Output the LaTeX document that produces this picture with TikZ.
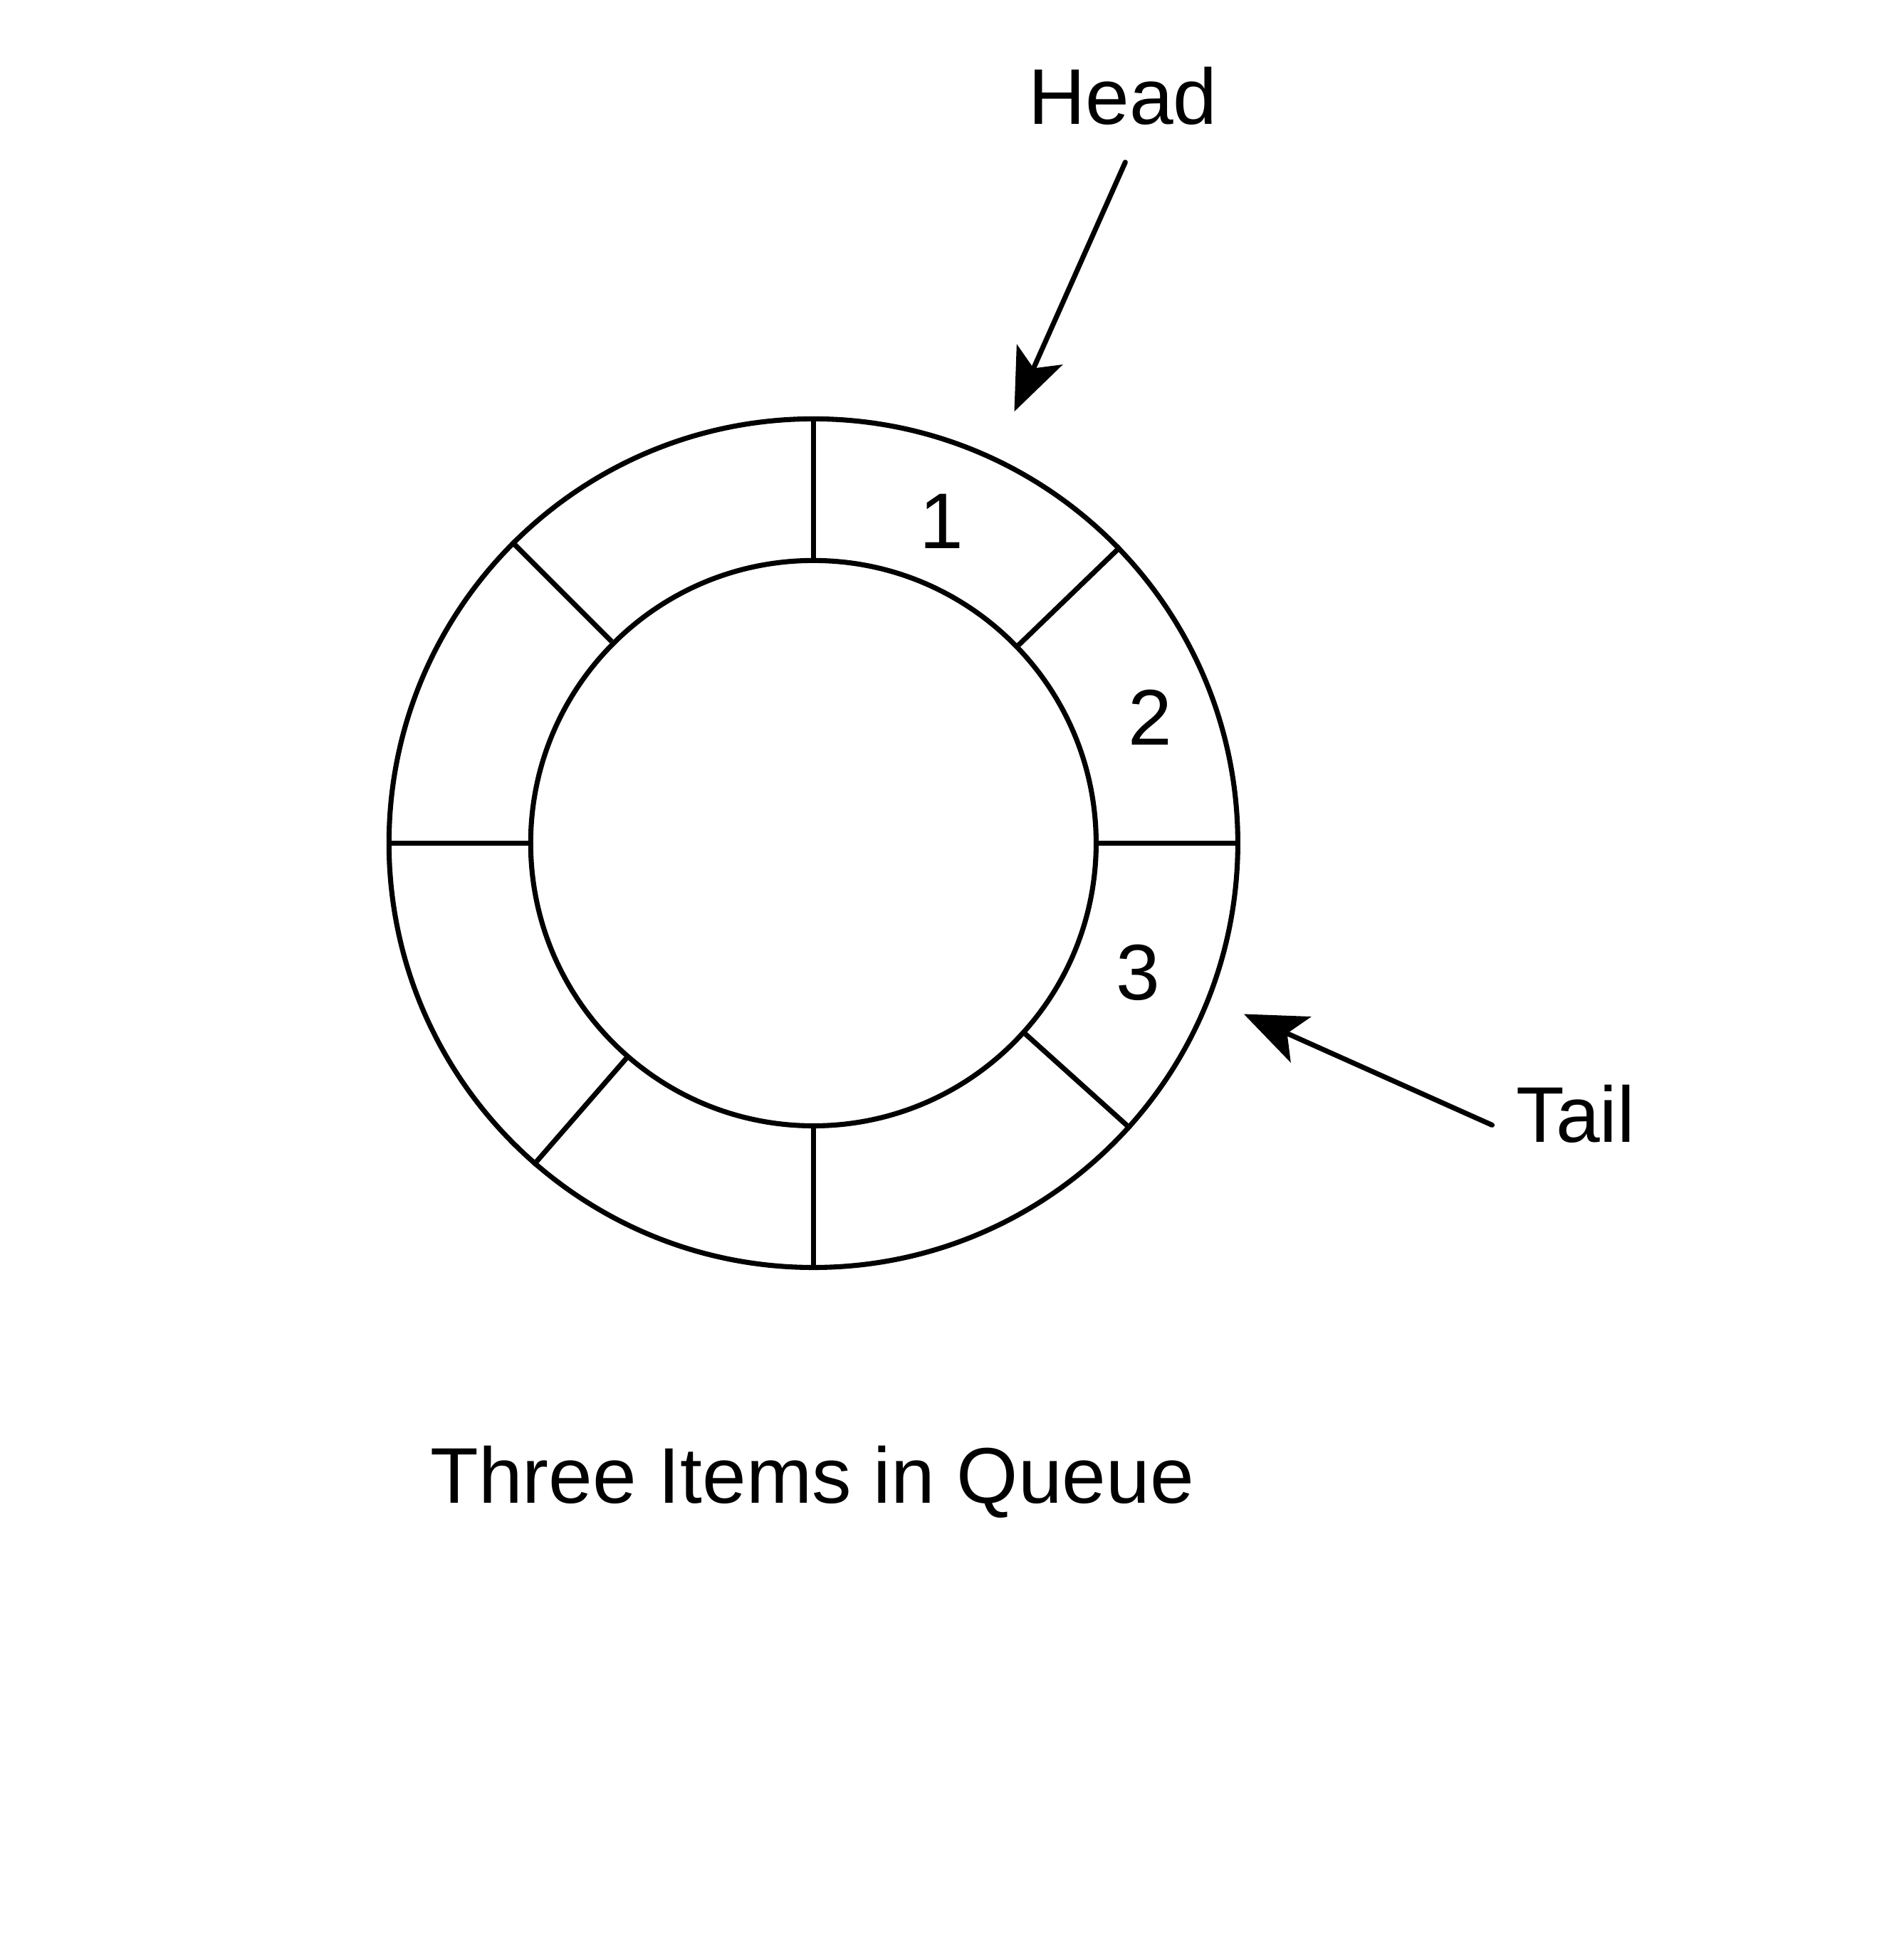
\documentclass[tikz,border=0pt]{standalone}
\usepackage{fontspec}
\setmainfont{Liberation Sans}
\usetikzlibrary{arrows.meta}
\begin{document}
\begin{tikzpicture}[x=0.01cm,y=-0.01cm,
  ln/.style={line width=1.15pt},
  lbl/.style={font=\fontsize{18}{20}\selectfont,inner sep=0pt},
  ptr/.style={ln,line cap=round,-{Stealth[length=0.5cm,width=0.4cm,inset=0.12cm]}}]
\useasboundingbox (0,0) rectangle (1526,1553);
\coordinate (c) at (652,676);
\node[ln,draw,circle,minimum size=6.8cm,inner sep=0pt] (outer) at (c) {};
\node[ln,draw,circle,minimum size=4.53cm,inner sep=0pt] (inner) at (c) {};
\foreach \a in {90,44,0,-42,-90,-131,180,135}
  \draw[ln] (inner.\a) -- (outer.\a);
\node[lbl] (n1) at (755,418) {1};
\node[lbl] (n2) at (922,575) {2};
\node[lbl] (n3) at (912,780) {3};
\node[lbl] (head) at (900,77) {Head};
\node[lbl] (tail) at (1263,893) {Tail};
\node[lbl] (title) at (651,1188) {Three Items in Queue};
\coordinate (hs) at (902,130);
\coordinate (ht) at (813,330);
\coordinate (ts) at (1196,902);
\coordinate (tt) at (997,813);
\draw[ptr] (hs) -- (ht);
\draw[ptr] (ts) -- (tt);
\end{tikzpicture}
\end{document}
